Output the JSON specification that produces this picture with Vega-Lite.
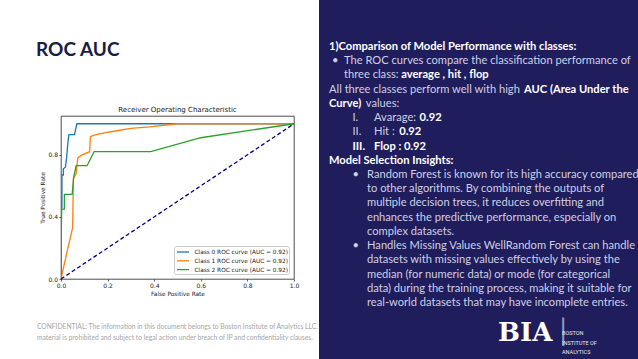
{
  "$schema": "https://vega.github.io/schema/vega-lite/v6.json",
  "background": "#ffffff",
  "padding": {"left": 36, "top": 0, "right": 0, "bottom": 0},
  "spacing": 0,
  "resolve": {"scale": {"color": "independent", "x": "independent", "y": "independent"}, "legend": {"color": "independent"}},
  "config": {
    "view": {"stroke": null},
    "font": "Lato",
    "axis": {"grid": false, "domain": false, "ticks": true, "tickSize": 2, "tickWidth": 0.6, "tickColor": "#000000", "labelFont": "DejaVu Sans", "labelFontSize": 6, "labelColor": "#222222", "labelPadding": 1.5, "labelOverlap": false, "labelFlush": false, "titleFont": "DejaVu Sans", "titleFontSize": 5.8, "titleFontWeight": "normal", "titleColor": "#222222", "titlePadding": 2}
  },
  "datasets": {
    "roc": [
      {"series": "Class 0 ROC curve (AUC = 0.92)", "fpr": 0, "tpr": 0},
      {"series": "Class 0 ROC curve (AUC = 0.92)", "fpr": 0, "tpr": 0.46},
      {"series": "Class 0 ROC curve (AUC = 0.92)", "fpr": 0.004, "tpr": 0.46},
      {"series": "Class 0 ROC curve (AUC = 0.92)", "fpr": 0.004, "tpr": 0.67},
      {"series": "Class 0 ROC curve (AUC = 0.92)", "fpr": 0.01, "tpr": 0.67},
      {"series": "Class 0 ROC curve (AUC = 0.92)", "fpr": 0.01, "tpr": 0.71},
      {"series": "Class 0 ROC curve (AUC = 0.92)", "fpr": 0.019, "tpr": 0.72},
      {"series": "Class 0 ROC curve (AUC = 0.92)", "fpr": 0.024, "tpr": 0.78},
      {"series": "Class 0 ROC curve (AUC = 0.92)", "fpr": 0.03, "tpr": 0.885},
      {"series": "Class 0 ROC curve (AUC = 0.92)", "fpr": 0.034, "tpr": 0.93},
      {"series": "Class 0 ROC curve (AUC = 0.92)", "fpr": 0.058, "tpr": 0.93},
      {"series": "Class 0 ROC curve (AUC = 0.92)", "fpr": 0.068, "tpr": 1.0},
      {"series": "Class 0 ROC curve (AUC = 0.92)", "fpr": 1, "tpr": 1},
      {"series": "Class 1 ROC curve (AUC = 0.92)", "fpr": 0, "tpr": 0},
      {"series": "Class 1 ROC curve (AUC = 0.92)", "fpr": 0.025, "tpr": 0.17},
      {"series": "Class 1 ROC curve (AUC = 0.92)", "fpr": 0.05, "tpr": 0.33},
      {"series": "Class 1 ROC curve (AUC = 0.92)", "fpr": 0.053, "tpr": 0.65},
      {"series": "Class 1 ROC curve (AUC = 0.92)", "fpr": 0.058, "tpr": 0.66},
      {"series": "Class 1 ROC curve (AUC = 0.92)", "fpr": 0.065, "tpr": 0.68},
      {"series": "Class 1 ROC curve (AUC = 0.92)", "fpr": 0.072, "tpr": 0.78},
      {"series": "Class 1 ROC curve (AUC = 0.92)", "fpr": 0.09, "tpr": 0.8},
      {"series": "Class 1 ROC curve (AUC = 0.92)", "fpr": 0.123, "tpr": 0.82},
      {"series": "Class 1 ROC curve (AUC = 0.92)", "fpr": 0.126, "tpr": 0.917},
      {"series": "Class 1 ROC curve (AUC = 0.92)", "fpr": 0.14, "tpr": 0.925},
      {"series": "Class 1 ROC curve (AUC = 0.92)", "fpr": 0.18, "tpr": 0.94},
      {"series": "Class 1 ROC curve (AUC = 0.92)", "fpr": 0.24, "tpr": 0.955},
      {"series": "Class 1 ROC curve (AUC = 0.92)", "fpr": 0.3, "tpr": 0.97},
      {"series": "Class 1 ROC curve (AUC = 0.92)", "fpr": 0.38, "tpr": 0.98},
      {"series": "Class 1 ROC curve (AUC = 0.92)", "fpr": 0.5, "tpr": 1.0},
      {"series": "Class 1 ROC curve (AUC = 0.92)", "fpr": 1, "tpr": 1},
      {"series": "Class 2 ROC curve (AUC = 0.92)", "fpr": 0, "tpr": 0},
      {"series": "Class 2 ROC curve (AUC = 0.92)", "fpr": 0, "tpr": 0.18},
      {"series": "Class 2 ROC curve (AUC = 0.92)", "fpr": 0.003, "tpr": 0.45},
      {"series": "Class 2 ROC curve (AUC = 0.92)", "fpr": 0.0145, "tpr": 0.45},
      {"series": "Class 2 ROC curve (AUC = 0.92)", "fpr": 0.0145, "tpr": 0.545},
      {"series": "Class 2 ROC curve (AUC = 0.92)", "fpr": 0.048, "tpr": 0.545},
      {"series": "Class 2 ROC curve (AUC = 0.92)", "fpr": 0.055, "tpr": 0.66},
      {"series": "Class 2 ROC curve (AUC = 0.92)", "fpr": 0.065, "tpr": 0.73},
      {"series": "Class 2 ROC curve (AUC = 0.92)", "fpr": 0.112, "tpr": 0.73},
      {"series": "Class 2 ROC curve (AUC = 0.92)", "fpr": 0.142, "tpr": 0.82},
      {"series": "Class 2 ROC curve (AUC = 0.92)", "fpr": 0.385, "tpr": 0.82},
      {"series": "Class 2 ROC curve (AUC = 0.92)", "fpr": 0.6, "tpr": 0.91},
      {"series": "Class 2 ROC curve (AUC = 0.92)", "fpr": 1, "tpr": 1}
    ],
    "diag": [
      {"fpr": 0, "tpr": 0},
      {"fpr": 1, "tpr": 1}
    ],
    "panel": [
      {"line": 0, "tab": 0, "part": "body", "strong": true, "text": "1)Comparison of Model Performance with classes:"},
      {"line": 1, "tab": 1, "part": "body", "strong": false, "text": "•"},
      {"line": 1, "tab": 2, "part": "body", "strong": false, "text": "The ROC curves compare the classification performance of"},
      {"line": 2, "tab": 2, "part": "body", "strong": false, "text": "three class: "},
      {"line": 2, "tab": 2, "part": "tail", "strong": true, "text": "average , hit , flop"},
      {"line": 3, "tab": 0, "part": "body", "strong": false, "text": "All three classes perform well with high "},
      {"line": 3, "tab": 0, "part": "tail", "strong": true, "text": "AUC (Area Under the"},
      {"line": 4, "tab": 0, "part": "body", "strong": true, "text": "Curve)"},
      {"line": 4, "tab": 0, "part": "tail", "strong": false, "text": "values:"},
      {"line": 5, "tab": 3, "part": "body", "strong": false, "text": "I."},
      {"line": 5, "tab": 5, "part": "body", "strong": false, "text": "Avarage: "},
      {"line": 5, "tab": 5, "part": "tail", "strong": true, "text": "0.92"},
      {"line": 6, "tab": 3, "part": "body", "strong": false, "text": "II."},
      {"line": 6, "tab": 5, "part": "body", "strong": false, "text": "Hit : "},
      {"line": 6, "tab": 5, "part": "tail", "strong": true, "text": "0.92"},
      {"line": 7, "tab": 3, "part": "body", "strong": true, "text": "III."},
      {"line": 7, "tab": 5, "part": "body", "strong": true, "text": "Flop : 0.92"},
      {"line": 8, "tab": 0, "part": "body", "strong": true, "text": "Model Selection Insights:"},
      {"line": 9, "tab": 3, "part": "body", "strong": false, "text": "•"},
      {"line": 9, "tab": 4, "part": "body", "strong": false, "text": "Random Forest is known for its high accuracy compared"},
      {"line": 10, "tab": 4, "part": "body", "strong": false, "text": "to other algorithms. By combining the outputs of"},
      {"line": 11, "tab": 4, "part": "body", "strong": false, "text": "multiple decision trees, it reduces overfitting and"},
      {"line": 12, "tab": 4, "part": "body", "strong": false, "text": "enhances the predictive performance, especially on"},
      {"line": 13, "tab": 4, "part": "body", "strong": false, "text": "complex datasets."},
      {"line": 14, "tab": 3, "part": "body", "strong": false, "text": "•"},
      {"line": 14, "tab": 4, "part": "body", "strong": false, "text": "Handles Missing Values WellRandom Forest can handle"},
      {"line": 15, "tab": 4, "part": "body", "strong": false, "text": "datasets with missing values effectively by using the"},
      {"line": 16, "tab": 4, "part": "body", "strong": false, "text": "median (for numeric data) or mode (for categorical"},
      {"line": 17, "tab": 4, "part": "body", "strong": false, "text": "data) during the training process, making it suitable for"},
      {"line": 18, "tab": 4, "part": "body", "strong": false, "text": "real-world datasets that may have incomplete entries."},
      {"line": 20, "tab": 6, "part": "logo", "strong": true, "text": "BIA"},
      {"line": 20, "tab": 7, "part": "divider", "strong": false, "text": "│"},
      {"line": 20, "tab": 8, "part": "name", "strong": false, "text": ["BOSTON", "INSTITUTE OF", "ANALYTICS"]}
    ]
  },
  "hconcat": [
    {
      "spacing": 0,
      "bounds": "flush",
      "resolve": {"scale": {"color": "independent", "x": "independent", "y": "independent"}, "legend": {"color": "independent"}},
      "vconcat": [
        {
          "width": 257,
          "height": 116,
          "data": {"values": []},
          "mark": "text",
          "title": {"text": "ROC AUC", "anchor": "start", "frame": "group", "orient": "top", "dx": -25, "offset": -75, "baseline": "alphabetic", "font": "Lato", "fontSize": 19, "fontWeight": "bold", "color": "#1b1c43"}
        },
        {
          "width": 233,
          "height": 163,
          "view": {"stroke": "#000000", "strokeWidth": 0.7},
          "title": {"text": "Receiver Operating Characteristic", "anchor": "middle", "frame": "group", "font": "DejaVu Sans", "fontSize": 7, "fontWeight": "normal", "color": "#222222", "offset": 3},
          "layer": [
            {
              "data": {"name": "roc"},
              "mark": {"type": "line", "strokeWidth": 1.3, "clip": true},
              "encoding": {
                "x": {"field": "fpr", "type": "quantitative", "scale": {"domain": [0, 1], "nice": false}, "axis": {"values": [0, 0.2, 0.4, 0.6, 0.8, 1], "format": ".1f", "labelOverlap": false, "labelFlush": false, "labelBound": false, "title": "False Positive Rate"}},
                "y": {"field": "tpr", "type": "quantitative", "scale": {"domain": [0, 1.05], "nice": false}, "axis": {"values": [0, 0.2, 0.4, 0.6, 0.8, 1], "format": ".1f", "labelOverlap": false, "labelFlush": false, "labelBound": false, "title": "True Positive Rate"}},
                "color": {
                  "field": "series", "type": "nominal",
                  "scale": {"domain": ["Class 0 ROC curve (AUC = 0.92)", "Class 1 ROC curve (AUC = 0.92)", "Class 2 ROC curve (AUC = 0.92)"], "range": ["#1f77b4", "#ff7f0e", "#2ca02c"]},
                  "legend": {"title": null, "orient": "bottom-right", "offset": 5, "symbolType": "M-1.5,0H1.5", "symbolSize": 64, "symbolStrokeWidth": 1.3, "symbolOffset": 3, "labelFont": "DejaVu Sans", "labelFontSize": 5.8, "labelColor": "#222222", "fillColor": "rgba(255,255,255,0.85)", "strokeColor": "#cccccc", "cornerRadius": 2, "padding": 1, "rowPadding": 0.8, "labelOffset": 6.5, "labelLimit": 200}
                },
                "order": [{"field": "fpr", "type": "quantitative"}, {"field": "tpr", "type": "quantitative"}]
              }
            },
            {
              "data": {"name": "diag"},
              "mark": {"type": "line", "color": "#000080", "strokeWidth": 1.3, "strokeDash": [4, 2.5]},
              "encoding": {
                "x": {"field": "fpr", "type": "quantitative"},
                "y": {"field": "tpr", "type": "quantitative"}
              }
            }
          ]
        },
        {
          "width": 257,
          "height": 80,
          "data": {"values": []},
          "mark": "text",
          "title": {"text": ["CONFIDENTIAL: The information in this document belongs to Boston Institute of Analytics LLC.", "material is prohibited and subject to legal action under breach of IP and confidentiality clauses."], "anchor": "start", "frame": "group", "orient": "top", "dx": -24, "offset": -68, "baseline": "alphabetic", "font": "Lato", "fontSize": 6.7, "lineHeight": 11, "fontWeight": "normal", "color": "#a6a6a6"}
        }
      ]
    },
    {
      "width": 320,
      "height": 359,
      "view": {"fill": "#1f1d5c", "stroke": null},
      "data": {"name": "panel"},
      "encoding": {
        "x": {"field": "tab", "type": "quantitative", "axis": null, "scale": {"domain": [0, 1, 2, 3, 4, 5, 6, 7, 8], "range": [10, 13, 25, 33.5, 48, 55, 179, 237, 243], "nice": false, "zero": false}},
        "y": {"field": "line", "type": "quantitative", "axis": null, "scale": {"domain": [-3.305, 21.94], "reverse": true, "nice": false, "zero": false}},
        "text": {"field": "text"}
      },
      "layer": [
        {"transform": [{"filter": "datum.part == 'body' && !datum.strong"}], "mark": {"type": "text", "align": "left", "baseline": "middle", "font": "Lato", "fontSize": 11.15, "color": "#d0d0e6"}},
        {"transform": [{"filter": "datum.part == 'body' && datum.strong"}], "mark": {"type": "text", "align": "left", "baseline": "middle", "font": "Lato", "fontSize": 11.15, "fontWeight": "bold", "color": "#ffffff"}},
        {"transform": [{"filter": "datum.part == 'tail' && datum.line == 2"}], "mark": {"type": "text", "align": "left", "baseline": "middle", "font": "Lato", "fontSize": 11.15, "fontWeight": "bold", "color": "#ffffff", "dx": 57.2}},
        {"transform": [{"filter": "datum.part == 'tail' && datum.line == 3"}], "mark": {"type": "text", "align": "left", "baseline": "middle", "font": "Lato", "fontSize": 11.15, "fontWeight": "bold", "color": "#ffffff", "dx": 195}},
        {"transform": [{"filter": "datum.part == 'tail' && datum.line == 4"}], "mark": {"type": "text", "align": "left", "baseline": "middle", "font": "Lato", "fontSize": 11.15, "color": "#d0d0e6", "dx": 36.8}},
        {"transform": [{"filter": "datum.part == 'tail' && datum.line == 5"}], "mark": {"type": "text", "align": "left", "baseline": "middle", "font": "Lato", "fontSize": 11.15, "fontWeight": "bold", "color": "#ffffff", "dx": 45.6}},
        {"transform": [{"filter": "datum.part == 'tail' && datum.line == 6"}], "mark": {"type": "text", "align": "left", "baseline": "middle", "font": "Lato", "fontSize": 11.15, "fontWeight": "bold", "color": "#ffffff", "dx": 25.2}},
        {"transform": [{"filter": "datum.part == 'logo'"}], "mark": {"type": "text", "align": "left", "baseline": "middle", "font": "DejaVu Serif", "fontSize": 26, "fontWeight": "bold", "color": "#ffffff", "dy": 2}},
        {"transform": [{"filter": "datum.part == 'divider'"}], "mark": {"type": "text", "align": "left", "baseline": "middle", "font": "DejaVu Sans", "fontSize": 24, "color": "#9a99bd", "dy": 2}},
        {"transform": [{"filter": "datum.part == 'name'"}], "mark": {"type": "text", "align": "left", "baseline": "middle", "font": "Roboto", "fontSize": 5.5, "lineHeight": 9.4, "color": "#e6e6f2", "dy": 2}}
      ]
    }
  ]
}
